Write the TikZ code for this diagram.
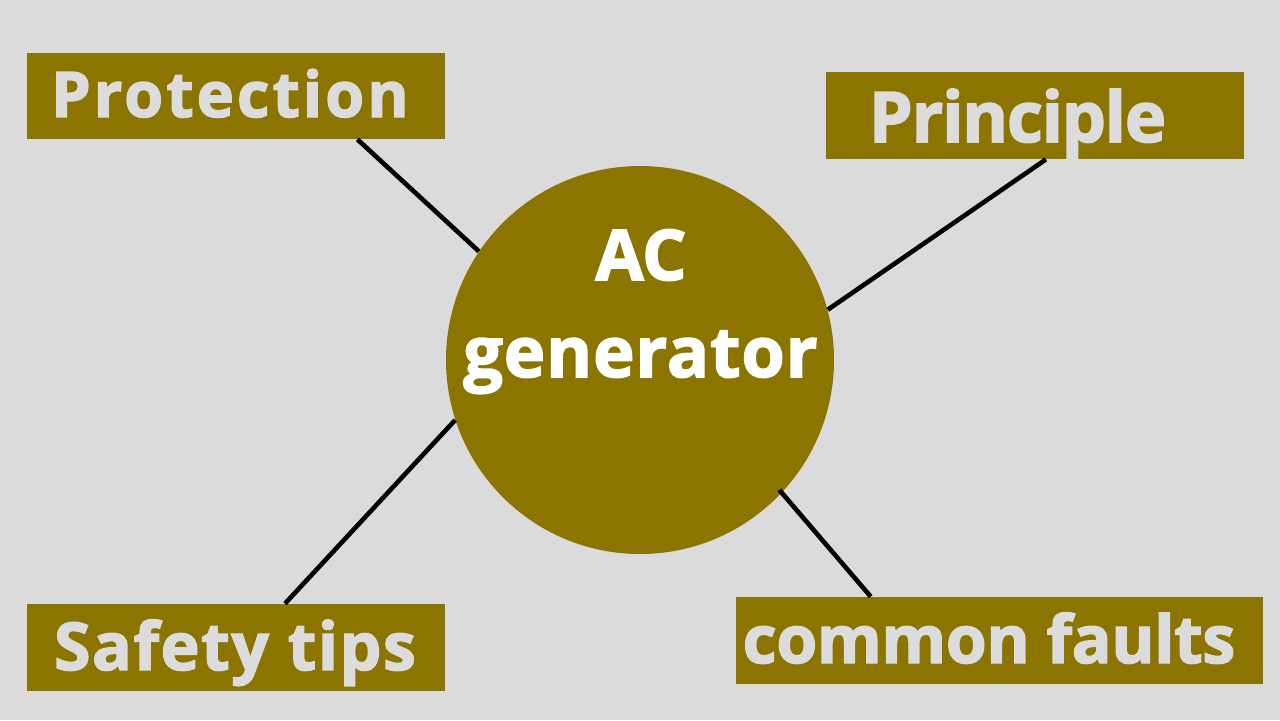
\documentclass[tikz,border=0pt]{standalone}
\usepackage{fontspec}
\setmainfont{Open Sans}
\usetikzlibrary{calc}
\definecolor{bgc}{RGB}{219,219,219}
\definecolor{olive}{RGB}{139,117,0}
\definecolor{boxtext}{RGB}{220,220,220}
\newcommand{\heavyfont}[2]{\bfseries\fontsize{#1}{#1}\selectfont\addfontfeatures{FakeBold=2.2,LetterSpace=#2}}
\tikzset{
  topicbox/.style={draw=none,fill=olive,rectangle,inner sep=0pt,minimum width=#1},
  topictext/.style={text=boxtext,inner sep=0pt,anchor=base},
  hubtext/.style={text=white,inner sep=0pt,anchor=base},
  link/.style={draw=black,line width=2.3pt}
}
\begin{document}
\begin{tikzpicture}[x=0.5pt,y=-0.5pt]
\fill[bgc] (0,0) rectangle (1280,720);
\useasboundingbox (0,0) rectangle (1280,720);
% hub
\node[circle,fill=olive,minimum size=194pt,inner sep=0pt] (hub) at (640,360) {};
\node[hubtext,font=\heavyfont{35pt}{-0.5}] (ac) at (641,280) {AC};
\node[hubtext,font=\heavyfont{35pt}{1.4}] (gen) at (640.5,377) {generator};
% boxes
\node[topicbox=209pt,minimum height=43pt] (prot) at (236,96) {};
\node[topictext,font=\heavyfont{31.5pt}{4.9}] (protT) at (230,117) {Protection};
\node[topicbox=209pt,minimum height=43.5pt] (prin) at (1035,115.5) {};
\node[topictext,font=\heavyfont{35pt}{-1.8}] (prinT) at (1017.5,142) {Principle};
\node[topicbox=209pt,minimum height=43.5pt] (safe) at (236,647.5) {};
\node[topictext,font=\heavyfont{33pt}{2.4}] (safeT) at (235,670) {Safety tips};
\node[topicbox=263.5pt,minimum height=43.5pt] (comm) at (999.5,640.5) {};
\node[topictext,font=\heavyfont{33pt}{-0.5}] (commT) at (989,663) {common faults};
% connectors
\draw[link] ($(prot.south west)!0.79!(prot.south east)$) -- (hub.146);
\draw[link] ($(prin.south west)!0.526!(prin.south east)$) -- (hub.15.7);
\draw[link] ($(safe.north west)!0.617!(safe.north east)$) -- (hub.198.3);
\draw[link] ($(comm.north west)!0.256!(comm.north east)$) -- ($(hub.center)!0.98!(hub.-43)$);
\end{tikzpicture}
\end{document}
